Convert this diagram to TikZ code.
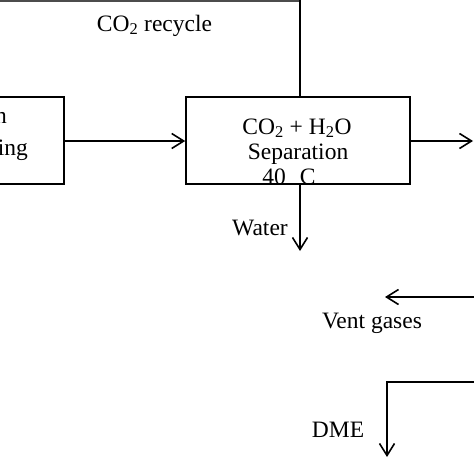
\documentclass[tikz,border=0pt]{standalone}
\usepackage{fontspec}
\setmainfont{Liberation Serif}
\usetikzlibrary{arrows.meta}
\tikzset{
  box/.style={draw, line width=1.6pt, rectangle, inner sep=0pt},
  flow/.style={line width=1.6pt, -{Straight Barb[length=12pt,width=15pt,line width=1.6pt]}},
  plain/.style={line width=1.6pt},
  lbl/.style={anchor=base, inner sep=0pt, font=\fontsize{23.5}{26}\selectfont}
}
\begin{document}
\begin{tikzpicture}[x=1pt,y=-1pt]
\useasboundingbox (0,0) rectangle (474,474);
\clip (0,0) rectangle (474,474);
% boxes
\node[box, minimum width=94pt, minimum height=87pt] (lb) at (17,140.5) {};
\node[box, minimum width=224pt, minimum height=87pt] (sep) at (298,140.5) {};
% left box text (cut off)
\node[lbl, anchor=base east] (lbt1) at (7,123) {n};
\node[lbl, anchor=base east] (lbt2) at (28,155) {ing};
% separation text
\node[lbl] (s1) at (297,134) {CO\textsubscript{2} + H\textsubscript{2}O};
\node[lbl] (s2) at (298,159) {Separation};
\node[lbl] (s3) at (289,184) {40\hspace{14pt}C};
% coordinates
\coordinate (topL) at (-10,1);
\coordinate (topR) at (300,1);
\coordinate (sepTop) at (300,96.5);
\coordinate (sepBot) at (300,184);
\coordinate (waterEnd) at (300,251);
\coordinate (outEnd) at (473,141);
\coordinate (ventStart) at (480,297);
\coordinate (ventEnd) at (385,297);
\coordinate (dmeStart) at (480,382);
\coordinate (dmeCorner) at (387,382);
\coordinate (dmeEnd) at (387,457);
% connectors
\draw[plain, draw=black!70] (topL) -- (topR);
\draw[plain] (sepTop) -- (300,0);
\draw[flow] (lb.east |- 0,141) -- (sep.west |- 0,141);
\draw[flow] (sep.east |- 0,141) -- (outEnd);
\draw[flow] (sepBot) -- (waterEnd);
\draw[flow] (ventStart) -- (ventEnd);
\draw[flow] (dmeStart) -- (dmeCorner) -- (dmeEnd);
% labels
\node[lbl] (rec) at (154.5,31) {CO\textsubscript{2} recycle};
\node[lbl] (water) at (260,235) {Water};
\node[lbl] (vent) at (372,328) {Vent gases};
\node[lbl] (dme) at (338,437) {DME};
\end{tikzpicture}
\end{document}
